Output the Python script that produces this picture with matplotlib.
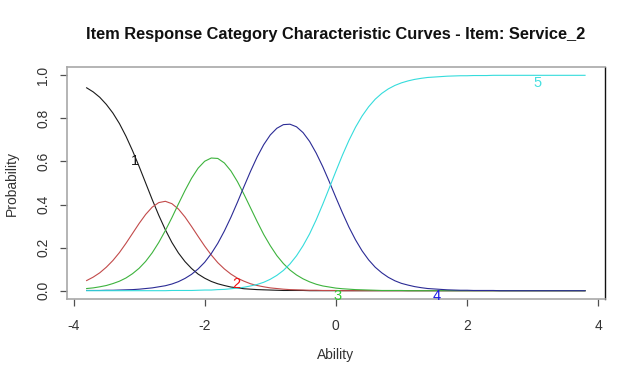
import numpy as np
import matplotlib
matplotlib.use("Agg")
import matplotlib.pyplot as plt

plt.rcParams['font.family'] = ['Liberation Sans', 'DejaVu Sans']

# Ability grid (theta)
ability = np.round(np.linspace(-3.8, 3.8, 77), 1)

# Category response probabilities
cat1 = [.942, .923, .898, .865, .825, .776, .717, .650, .577, .500,
        .423, .350, .283, .224, .175, .135, .103, .077, .058, .043,
        .032, .024, .017, .013, .009, .007, .005, .004, .003, .002,
        .001, .001, .001, .001] + [0.0] * 43
cat2 = [.047, .063, .083, .109, .140, .177, .220, .266, .312, .354,
        .388, .409, .415, .404, .379, .342, .298, .252, .207, .166,
        .130, .101, .077, .058, .044, .032, .024, .018, .013, .010,
        .007, .005, .004, .003, .002, .002, .001, .001, .001] + [0.0] * 38
cat3 = [.010, .013, .018, .024, .033, .044, .059, .079, .104, .136,
        .176, .224, .279, .339, .403, .465, .522, .569, .601, .616,
        .614, .593, .556, .506, .447, .384, .321, .261, .209, .163,
        .126, .096, .073, .055, .041, .030, .022, .017, .012, .009,
        .007, .005, .004, .003, .002, .001, .001, .001, .001] + [0.0] * 28
cat4 = [.001, .001, .001, .002, .002, .003, .004, .005, .007, .010,
        .013, .018, .023, .031, .042, .057, .076, .101, .132, .172,
        .220, .277, .341, .411, .484, .555, .621, .678, .723, .754,
        .771, .773, .761, .734, .693, .639, .576, .506, .433, .362,
        .295, .236, .185, .143, .109, .083, .062, .046, .034, .026,
        .019, .014, .010, .008, .006, .004, .003, .002, .002, .001,
        .001, .001, .001, .000, .000, .000, .000] + [0.0] * 10
cat5 = [0.0] * 13 + [.001, .001, .001, .001, .002, .003, .003,
        .005, .006, .009, .012, .016, .022, .029, .039, .053, .071,
        .094, .124, .162, .209, .264, .329, .401, .477, .554, .629,
        .698, .759, .811, .854, .889, .916, .937, .953, .965, .974,
        .981, .986, .990, .992, .994, .996, .997, .998, .998, .999,
        .999, .999] + [1.0] * 15

categories = ['1', '2', '3', '4', '5']
line_colors = ['#1a1a1a', '#c24a4a', '#3db33d', '#2b2b95', '#35dcdc']
text_colors = ['#1a1a1a', '#ee1111', '#33cc33', '#1a1ae6', '#45e0e0']
label_x = [-3.065, -1.52, 0.03, 1.53, 3.07]
label_y = [0.60, 0.032, -0.023, -0.026, 0.962]

title = "Item Response Category Characteristic Curves - Item: Service_2"

fig = plt.figure(figsize=(6.4, 3.84), dpi=100)
ax = fig.add_axes([66.7 / 640, 1 - 299.3 / 384, (605 - 66.7) / 640, (299.3 - 66.7) / 384])

series = [cat1, cat2, cat3, cat4, cat5]
for vals, col in zip(series, line_colors):
    ax.plot(ability, vals, color=col, lw=0.8, solid_joinstyle='round')
for lab, lx, ly, col in zip(categories, label_x, label_y, text_colors):
    ax.text(lx, ly, lab, color=col, fontsize=10.5, ha='center', va='center')

ax.set_xlim(-4.104, 4.104)
ax.set_ylim(-0.04, 1.04)
ax.set_xticks([-4, -2, 0, 2, 4])
ax.set_xticklabels(['-4', '-2', '0', '2', '4'])
ax.set_yticks([0.0, 0.2, 0.4, 0.6, 0.8, 1.0])
ax.set_yticklabels(['0.0', '0.2', '0.4', '0.6', '0.8', '1.0'], rotation=90, va='center')
ax.tick_params(axis='both', direction='out', length=5, width=0.9, color='#505050',
               labelcolor='#333333', labelsize=10)
ax.tick_params(axis='x', pad=9.5)
ax.tick_params(axis='y', pad=7)
for side in ['top', 'left', 'bottom']:
    ax.spines[side].set_color('#a8a8a8')
    ax.spines[side].set_linewidth(1.2)
ax.spines['right'].set_color('#111111')
ax.spines['right'].set_linewidth(1.0)

fig.text(335.8 / 640, 1 - 35 / 384, title, ha='center', va='center',
         fontweight='bold', fontsize=11.8, color='#111111')
fig.text(335.8 / 640, 1 - 355 / 384, 'Ability', ha='center', va='center',
         fontsize=10, color='#333333')
fig.text(12 / 640, 1 - 183 / 384, 'Probability', ha='center', va='center',
         rotation=90, fontsize=10, color='#333333')

fig.savefig('out.png', dpi=100)
